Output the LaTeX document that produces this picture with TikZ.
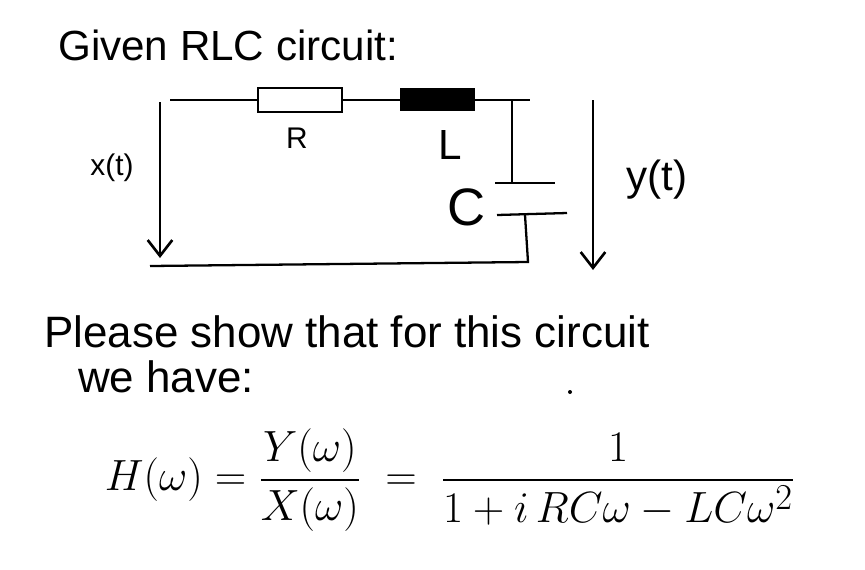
\documentclass[tikz,border=0pt]{standalone}
\usepackage{amsmath}
\usepackage{fontspec}
\setmainfont{Liberation Sans}
\usetikzlibrary{arrows.meta}
\begin{document}
\begin{tikzpicture}[x=0.02cm,y=-0.02cm,
  wire/.style={line width=1.3pt},
  sig/.style={line width=1.5pt,-{Straight Barb[length=9pt,width=14pt]}},
  txt/.style={font=\fontsize{24}{28}\selectfont},
  big/.style={font=\fontsize{25}{30}\selectfont},
  lbl/.style={font=\fontsize{17}{20}\selectfont}]
\useasboundingbox (0,0) rectangle (865,569);
% wires and components
\coordinate (a) at (170,100);
\coordinate (r1) at (258,100);
\coordinate (r2) at (342,100);
\coordinate (l1) at (400,100);
\coordinate (l2) at (475,100);
\coordinate (tr) at (530,100);
\coordinate (cj) at (512,100);
\coordinate (ct) at (512,183);
\coordinate (cb) at (525,215);
\coordinate (br) at (528,262);
\coordinate (bl) at (150,266);
\draw[wire] (a) -- (r1);
\draw[wire] (258,88) rectangle (342,112);
\draw[wire] (r2) -- (l1);
\fill (400,88) rectangle (475,111);
\draw[wire] (l2) -- (tr);
\draw[wire] (cj) -- (ct);
\draw[wire] (495,183) -- (555,183);
\draw[wire] (497,215) -- (567,213);
\draw[wire] (cb) -- (br) -- (bl);
\node[lbl] (R) at (297,138) {R};
\node[txt] (L) at (450,145) {L};
\node[font=\fontsize{30}{34}\selectfont] (C) at (467,207) {C};
% signals
\coordinate (xs) at (160,102);
\coordinate (xe) at (160,258);
\draw[sig] (xs) -- (xe);
\node[lbl] (x) at (112,168) {x(t)};
\coordinate (ys) at (593,100);
\coordinate (ye) at (593,270);
\draw[sig] (ys) -- (ye);
\node[txt] (y) at (657,180) {y(t)};
% text
\node[txt,anchor=west] (t1) at (52,45) {Given RLC circuit:};
\node[big,anchor=west] (t2) at (38,332) {Please show that for this circuit};
\node[big,anchor=west] (t3) at (72,377) {we have:};
\fill (570,392) circle (2);
\node[font=\fontsize{30}{36}\selectfont] (eq) at (450,480)
  {$H(\omega)=\dfrac{Y(\omega)}{X(\omega)}\;=\;\dfrac{1}{1+i\,RC\omega-LC\omega^2}$};
\end{tikzpicture}
\end{document}
